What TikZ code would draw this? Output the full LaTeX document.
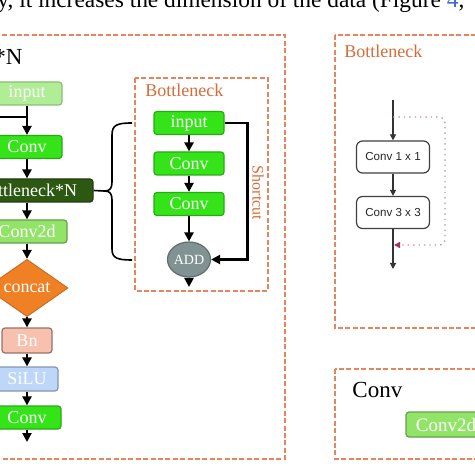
\documentclass[tikz,border=0pt]{standalone}
\usepackage{fontspec}
\setmainfont{Liberation Serif}
\newfontfamily\arialfont{Liberation Sans}
\usetikzlibrary{arrows.meta, shapes.geometric}
\definecolor{palegreen}{RGB}{176,238,150}
\definecolor{brightgreen}{RGB}{52,228,24}
\definecolor{darkgreen}{RGB}{44,88,18}
\definecolor{midgreen}{RGB}{146,228,104}
\definecolor{concatorange}{RGB}{240,128,36}
\definecolor{bnpink}{RGB}{248,192,174}
\definecolor{silublue}{RGB}{190,214,248}
\definecolor{addgray}{RGB}{128,146,146}
\definecolor{frameorange}{RGB}{232,132,92}
\definecolor{labelorange}{RGB}{214,108,58}
\definecolor{dotpink}{RGB}{204,140,170}
\definecolor{tippurple}{RGB}{160,50,100}
\definecolor{refblue}{RGB}{60,110,200}
\tikzstyle{block}=[rectangle, rounded corners=1.5pt, line width=0.6pt, minimum height=11.5pt, inner sep=0pt, text=white, font=\fontsize{9}{9}\selectfont]
\tikzstyle{pale-block}=[block, fill=palegreen, draw=palegreen!80!black]
\tikzstyle{conv-block}=[block, fill=brightgreen, draw=brightgreen!75!black]
\tikzstyle{neck-block}=[block, fill=darkgreen, draw=darkgreen!70!black]
\tikzstyle{mid-block}=[block, fill=midgreen, draw=midgreen!70!black]
\tikzstyle{bn-block}=[block, fill=bnpink, draw=bnpink!60!black]
\tikzstyle{act-block}=[block, fill=silublue, draw=silublue!70!black]
\tikzstyle{merge-diamond}=[diamond, fill=concatorange, draw=concatorange!85!black, line width=0.5pt, inner sep=0pt, minimum width=41pt, minimum height=26pt, text=white, font=\fontsize{9}{9}\selectfont]
\tikzstyle{add-node}=[ellipse, fill=addgray, draw=addgray!75!black, line width=0.6pt, inner sep=0pt, minimum width=21.5pt, minimum height=17.5pt, text=white, font=\fontsize{7}{7}\selectfont]
\tikzstyle{plain-block}=[rectangle, rounded corners=3pt, draw=black!75, fill=white, line width=0.6pt, minimum width=36.5pt, minimum height=16pt, inner sep=0pt, text=black!85, font=\arialfont\fontsize{5.8}{6}\selectfont]
\tikzstyle{group-frame}=[draw=frameorange, line width=0.8pt, dash pattern=on 2.5pt off 1.2pt]
\tikzstyle{group-label}=[anchor=base west, inner sep=0pt, text=labelorange, font=\fontsize{9}{9}\selectfont]
\tikzstyle{arrow-thick}=[line width=1.4pt, -{Triangle[length=4.5pt, width=4.5pt]}]
\tikzstyle{line-thick}=[line width=1.4pt]
\tikzstyle{arrow-thin}=[line width=0.6pt, draw=black!80, -{Triangle[length=3pt, width=3pt]}]
\tikzstyle{shortcut-dots}=[line width=0.7pt, draw=dotpink, dotted, rounded corners=3pt, -{Triangle[length=3pt, width=3pt, color=tippurple]}]

\begin{document}
\begin{tikzpicture}[x=0.5pt, y=-0.5pt]
\useasboundingbox (0,0) rectangle (474,474);

\node [anchor=base west, inner sep=0pt, font=\fontsize{11.7}{12}\selectfont] (toptext) at (-3,8) {y, it increases the dimension of the data (Figure \textcolor{refblue}{4},};

% left module
\draw[group-frame] (-10,35) rectangle (285,459);
\node [anchor=base east, inner sep=0pt, font=\fontsize{11.5}{11.5}\selectfont] (csptitle) at (23,65) {*N};
\node[pale-block, minimum width=35pt] (in) at (27,93.5) {input};
\node[conv-block, minimum width=35pt] (conva) at (27,147) {Conv};
\node[neck-block, minimum width=66pt] (neckn) at (27,190.5) {Bottleneck*N};
\node[mid-block, minimum width=40pt] (convd) at (27,231.5) {Conv2d};
\node[merge-diamond] (cat) at (27,288) {concat};
\node[bn-block, minimum width=25pt, minimum height=12.5pt] (bn) at (27,340.5) {Bn};
\node[act-block, minimum width=31pt, minimum height=12pt] (silu) at (27,379) {SiLU};
\node[conv-block, minimum width=34pt] (convb) at (27,417.5) {Conv};
\coordinate (outa) at (27,442);
\coordinate (sidein) at (-10,117);
\coordinate (join) at (27,117);
\draw [arrow-thick] (in) -- (conva);
\draw [line-thick] (sidein) -- (join);
\draw [arrow-thick] (conva) -- (neckn);
\draw [arrow-thick] (neckn) -- (convd);
\draw [arrow-thick] (convd) -- (cat);
\draw [arrow-thick] (cat) -- (bn);
\draw [arrow-thick] (bn) -- (silu);
\draw [arrow-thick] (silu) -- (convb);
\draw [arrow-thick] (convb) -- (outa);

% brace
\coordinate (bracetip) at (105,191);
\draw [line width=0.8pt] (neckn.east) -- (bracetip);
\draw [line width=0.8pt] (132,123) .. controls (117,123) and (112,125) .. (112,135) -- (112,182) .. controls (112,188) and (110,191) .. (bracetip) .. controls (110,191) and (112,194) .. (112,200) -- (112,249) .. controls (112,258) and (117,260) .. (132,260);

% bottleneck detail
\draw[group-frame] (135,78) rectangle (268,291);
\node[group-label] (necklabel) at (145,97) {Bottleneck};
\node[conv-block, minimum width=35pt] (nin) at (189,123) {input};
\node[conv-block, minimum width=35pt] (nconva) at (189,163.5) {Conv};
\node[conv-block, minimum width=35pt] (nconvb) at (189,204) {Conv};
\node[add-node] (nadd) at (189,259.5) {ADD};
\coordinate (nout) at (189,287);
\draw [arrow-thick] (nin) -- (nconva);
\draw [arrow-thick] (nconva) -- (nconvb);
\draw [arrow-thick] (nconvb) -- (nadd);
\draw [arrow-thick] (nadd) -- (nout);
\draw [arrow-thick] (nin.east) -- ++(23,0) |- (nadd.east);
\node[rotate=-90, inner sep=0pt, text=labelorange, font=\fontsize{8}{8}\selectfont] (shortlabel) at (258,193) {Shortcut};

% right bottleneck
\draw[group-frame] (335,35) rectangle (490,328);
\node[group-label] (rlabel) at (344,58) {Bottleneck};
\coordinate (rin) at (393,100);
\node[plain-block] (rconva) at (393,157) {Conv 1 x 1};
\node[plain-block] (rconvb) at (393,212.5) {Conv 3 x 3};
\coordinate (rout) at (393,269);
\coordinate (rsplit) at (393,117);
\coordinate (rmerge) at (394,245);
\draw [arrow-thin] (rin) -- (rconva);
\draw [arrow-thin] (rconva) -- (rconvb);
\draw [arrow-thin] (rconvb) -- (rout);
\draw [shortcut-dots] (rsplit) -- ++(52,0) |- (rmerge);

% conv
\draw[group-frame] (335,369) rectangle (490,459);
\node [anchor=base west, inner sep=0pt, font=\fontsize{11.5}{11.5}\selectfont] (convtitle) at (352,397) {Conv};
\node[mid-block, minimum width=40pt, minimum height=12.5pt, font=\fontsize{9.5}{9.5}\selectfont] (rconvd) at (446,424.5) {Conv2d};
\end{tikzpicture}
\end{document}
